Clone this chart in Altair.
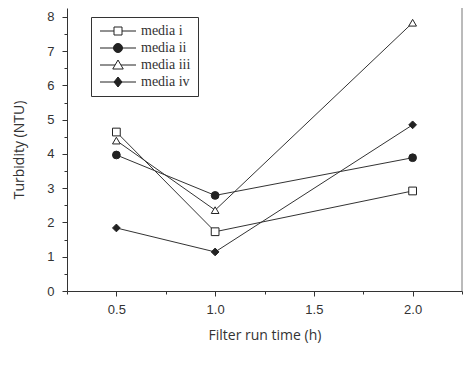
import altair as alt
import pandas as pd

series = ["media i", "media ii", "media iii", "media iv"]
times = [0.5, 1.0, 2.0]
media_i = [4.64, 1.73, 2.92]
media_ii = [3.97, 2.79, 3.89]
media_iii = [4.39, 2.36, 7.83]
media_iv = [1.84, 1.14, 4.85]

rows = []
for name, vals in zip(series, [media_i, media_ii, media_iii, media_iv]):
    for t, v in zip(times, vals):
        rows.append({"series": name, "time": t, "turbidity": v})
df = pd.DataFrame(rows)

x_tick_values = [0.25, 0.5, 0.75, 1.0, 1.25, 1.5, 1.75, 2.0, 2.25]
y_tick_values = [i * 0.5 for i in range(17)]

W, H = 395, 283

xscale = alt.Scale(domain=[0.25, 2.25], nice=False, zero=False)
yscale = alt.Scale(domain=[0, 8.26], nice=False)

x_major = "abs(datum.value*2 - round(datum.value*2)) < 0.001"
y_major = "datum.value % 1 === 0"

x_axis = alt.Axis(
    values=x_tick_values,
    labelExpr=f"{x_major} ? format(datum.value, '.1f') : ''",
    tickSize={"condition": {"test": x_major, "value": 5}, "value": 3},
    labelPadding=7,
    titlePadding=12,
    grid=False,
)
y_axis = alt.Axis(
    values=y_tick_values,
    labelExpr=f"{y_major} ? format(datum.value, 'd') : ''",
    tickSize={"condition": {"test": y_major, "value": 5}, "value": 3},
    labelPadding=8,
    titlePadding=20,
    grid=False,
)

# legend symbol paths (unit = 5px), line from -1 to 6.2, marker centred at 2.6
p_sq = "M-1,0H1.8M3.4,0H6.2M1.8,-0.8H3.4V0.8H1.8Z"
p_ci = "M-1,0H6.2M1.7,0A0.9,0.9 0 1,0 3.5,0A0.9,0.9 0 1,0 1.7,0Z"
p_tr = "M-1,0H2.0M3.2,0H6.2M2.6,-1.0L3.65,0.8H1.55Z"
p_di = "M-1,0H6.2M2.6,-1.0L3.4,0L2.6,1.0L1.8,0Z"

legend = alt.Legend(
    title=None,
    orient="none",
    legendX=24,
    legendY=9,
    padding=7,
    strokeColor="#333",
    fillColor="white",
    rowPadding=3,
    symbolSize=100,
    symbolOpacity=1,
    symbolStrokeWidth=1,
    labelFont="Liberation Serif",
    labelFontSize=14,
    labelColor="#333",
    labelOffset=29,
)

base = alt.Chart(df).encode(
    x=alt.X("time:Q", scale=xscale, axis=x_axis, title="Filter run time (h)"),
    y=alt.Y("turbidity:Q", scale=yscale, axis=y_axis, title="Turbidity (NTU)"),
)

lines = base.mark_line(color="#333", strokeWidth=1).encode(detail="series:N")

points = base.mark_point(filled=True, size=60, stroke="#222", strokeWidth=1, opacity=1).encode(
    shape=alt.Shape(
        "series:N",
        scale=alt.Scale(domain=series, range=["square", "circle", "triangle-up", "diamond"]),
        legend=None,
    ),
    fill=alt.Fill(
        "series:N",
        scale=alt.Scale(domain=series, range=["white", "#222", "white", "#222"]),
        legend=None,
    ),
)

legend_layer = base.mark_point(filled=True, size=100, strokeWidth=1, opacity=0).encode(
    shape=alt.Shape(
        "series:N",
        scale=alt.Scale(domain=series, range=[p_sq, p_ci, p_tr, p_di]),
        legend=legend,
    ),
    fill=alt.Fill(
        "series:N",
        scale=alt.Scale(domain=series, range=["white", "#222", "white", "#222"]),
        legend=legend,
    ),
    stroke=alt.Stroke(
        "series:N",
        scale=alt.Scale(domain=series, range=["#222", "#222", "#222", "#222"]),
        legend=legend,
    ),
)

frame = alt.Chart(pd.DataFrame({"a": [0]})).mark_rule(color="#777", strokeWidth=1).encode(
    x=alt.value(W), y=alt.value(0), y2=alt.value(H)
)

chart = (
    alt.layer(lines, points, legend_layer, frame)
    .resolve_scale(shape="independent", fill="independent", stroke="independent")
    .properties(
        width=W,
        height=H,
        padding={"left": 59, "top": 0, "right": 4, "bottom": 60},
        autosize=alt.AutoSizeParams(type="none"),
    )
    .configure_view(stroke=None)
    .configure_axis(
        domainColor="#333",
        tickColor="#333",
        labelColor="#333",
        labelFont="Liberation Sans",
        labelFontSize=13,
        titleColor="#333",
        titleFont="Open Sans",
        titleFontSize=14,
        titleFontWeight="normal",
    )
)

chart.save("out.html", embed_options={"renderer": "svg", "actions": False})
